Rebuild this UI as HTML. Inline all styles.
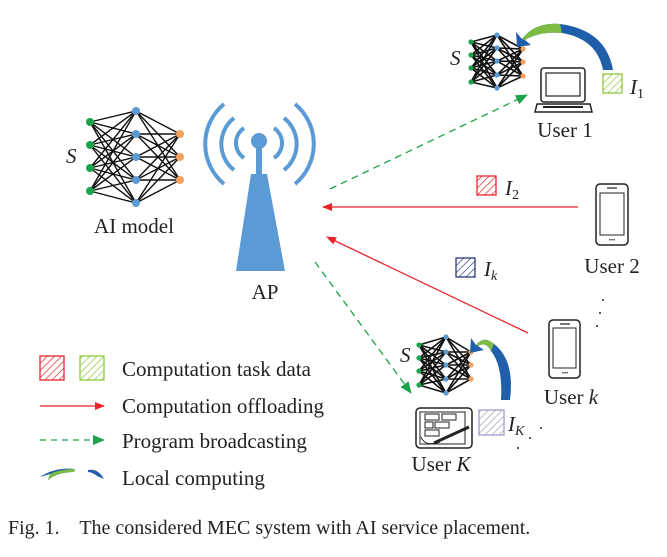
<!DOCTYPE html>
<html><head><meta charset="utf-8"><style>
html,body{margin:0;padding:0;background:#fff;}
svg{display:block;font-family:"Liberation Serif",serif;}
</style></head><body>
<svg id="s" width="667" height="557" viewBox="0 0 667 557" xmlns="http://www.w3.org/2000/svg">
<defs>
<pattern id="hr" width="5" height="5" patternUnits="userSpaceOnUse" patternTransform="rotate(45)"><line x1="0" y1="0" x2="0" y2="5" stroke="#e8232a" stroke-width="1.4"/></pattern>
<pattern id="hg" width="5" height="5" patternUnits="userSpaceOnUse" patternTransform="rotate(45)"><line x1="0" y1="0" x2="0" y2="5" stroke="#8cc63f" stroke-width="1.4"/></pattern>
<pattern id="hb" width="5" height="5" patternUnits="userSpaceOnUse" patternTransform="rotate(45)"><line x1="0" y1="0" x2="0" y2="5" stroke="#2b3a7a" stroke-width="1.4"/></pattern>
<pattern id="hp" width="5" height="5" patternUnits="userSpaceOnUse" patternTransform="rotate(45)"><line x1="0" y1="0" x2="0" y2="5" stroke="#a898c8" stroke-width="1.4"/></pattern>
<marker id="ar" markerWidth="10" markerHeight="8" refX="9" refY="4" orient="auto" markerUnits="userSpaceOnUse"><path d="M0,0 L10,4 L0,8z" fill="#e8232a"/></marker>
<marker id="ag" markerWidth="12" markerHeight="10" refX="11" refY="5" orient="auto" markerUnits="userSpaceOnUse"><path d="M0,0 L12,5 L0,10z" fill="#1aa34a"/></marker>
</defs>
<g id="nn"></g>
<!-- AP -->
<g fill="#5b9bd5" stroke="none">
<circle cx="259" cy="141" r="8"/>
<rect x="256" y="146" width="6" height="30"/>
<path d="M251,174 L267,174 L285,271 L236,271z"/>
</g>
<g fill="none" stroke="#5b9bd5" stroke-width="4">
<path d="M244,128 A18,18 0 0 0 244,158"/><path d="M274,128 A18,18 0 0 1 274,158"/>
<path d="M234,118 A33,33 0 0 0 234,170"/><path d="M284,118 A33,33 0 0 1 284,170"/>
<path d="M224,104 A52,52 0 0 0 224,184"/><path d="M295,104 A52,52 0 0 1 295,184"/>
</g>
<!-- arrows -->
<line x1="330" y1="189" x2="527" y2="95" stroke="#1aa34a" stroke-width="1.3" stroke-dasharray="7,5" marker-end="url(#ag)"/>
<line x1="578" y1="207" x2="323" y2="207" stroke="#e8232a" stroke-width="1.3" marker-end="url(#ar)"/>
<line x1="528" y1="333" x2="327" y2="237" stroke="#e8232a" stroke-width="1.3" marker-end="url(#ar)"/>
<line x1="315" y1="262" x2="411" y2="393" stroke="#1aa34a" stroke-width="1.3" stroke-dasharray="7,5" marker-end="url(#ag)"/>
<!-- laptop -->
<rect x="541" y="68" width="44" height="34" rx="3" fill="none" stroke="#222" stroke-width="1.5"/>
<rect x="546" y="73" width="34" height="23" fill="none" stroke="#222" stroke-width="1.2"/>
<path d="M537,104 L590,104 L592,112 L535,112z" fill="none" stroke="#222" stroke-width="1.5"/>
<rect x="543" y="106" width="40" height="2" fill="#222"/>
<!-- phone 2 -->
<rect x="596" y="184" width="32" height="61" rx="4" fill="none" stroke="#222" stroke-width="1.5"/>
<rect x="600" y="193" width="24" height="42" fill="none" stroke="#222" stroke-width="1"/>
<line x1="607" y1="188" x2="617" y2="188" stroke="#222" stroke-width="1.2"/>
<text x="612" y="242" font-size="6" text-anchor="middle">•••</text>
<!-- phone k -->
<rect x="549" y="320" width="31" height="58" rx="4" fill="none" stroke="#222" stroke-width="1.5"/>
<rect x="553" y="328" width="23" height="40" fill="none" stroke="#222" stroke-width="1"/>
<line x1="560" y1="324" x2="570" y2="324" stroke="#222" stroke-width="1.2"/>
<text x="565" y="375" font-size="6" text-anchor="middle">•••</text>
<!-- tablet -->
<rect x="416" y="408" width="56" height="40" rx="4" fill="none" stroke="#222" stroke-width="1.5"/>
<rect x="420" y="412" width="45" height="32" fill="none" stroke="#222" stroke-width="1"/>
<g stroke="#222" stroke-width="1" fill="none">
<rect x="425" y="414" width="14" height="6"/><rect x="442" y="414" width="14" height="6"/>
<rect x="425" y="422" width="8" height="6"/><rect x="435" y="422" width="14" height="6"/>
<rect x="425" y="430" width="14" height="6"/>
</g>
<line x1="434" y1="443" x2="469" y2="427" stroke="#222" stroke-width="3"/>
<path d="M421,437 Q425,447 440,442" fill="none" stroke="#222"/>
<!-- hatched boxes -->
<rect x="603" y="74" width="19" height="19" fill="url(#hg)" stroke="#8cc63f" stroke-width="1.3"/>
<rect x="477" y="176" width="19" height="19" fill="url(#hr)" stroke="#e8232a" stroke-width="1.3"/>
<rect x="456" y="258" width="19" height="19" fill="url(#hb)" stroke="#2b3a7a" stroke-width="1.3"/>
<rect x="479" y="410" width="25" height="25" fill="url(#hp)" stroke="#a898c8" stroke-width="1.3"/>
<!-- local computing curves -->
<path d="M613,70 Q606,30 560,24 Q535,22 522,39 L516,32 L517,47 L531,45 L525,40 Q540,31 562,33 Q597,39 603,70z" fill="#1f5ea8"/>
<path d="M560,24 Q535,22 522,39 L525,40 Q540,31 562,33z" fill="#7dbb42"/>
<path d="M510,400 Q515,360 494,344 Q484,335 476,345 L471,338 L470,353 L484,350 L478,346 Q486,341 491,351 Q503,366 501,400z" fill="#1f5ea8"/>
<path d="M494,344 Q484,335 476,345 L478,346 Q486,341 491,351z" fill="#7dbb42"/>
<!-- labels -->
<g font-size="21" fill="#222">
<text x="66" y="163" font-style="italic">S</text>
<text x="134" y="233" text-anchor="middle">AI model</text>
<text x="265" y="299" text-anchor="middle">AP</text>
<text x="450" y="65" font-style="italic">S</text>
<text x="400" y="362" font-style="italic">S</text>
<text x="565" y="137" text-anchor="middle">User 1</text>
<text x="612" y="273" text-anchor="middle">User 2</text>
<text x="571" y="404" text-anchor="middle">User <tspan font-style="italic">k</tspan></text>
<text x="441" y="471" text-anchor="middle">User <tspan font-style="italic">K</tspan></text>
<text x="630" y="94" font-style="italic">I<tspan font-size="14" font-style="normal" dy="4">1</tspan></text>
<text x="505" y="195" font-style="italic">I<tspan font-size="14" font-style="normal" dy="4">2</tspan></text>
<text x="484" y="276" font-style="italic">I<tspan font-size="14" dy="4">k</tspan></text>
<text x="508" y="431" font-style="italic">I<tspan font-size="14" dy="4">K</tspan></text>
<text x="122" y="376">Computation task data</text>
<text x="122" y="413">Computation offloading</text>
<text x="122" y="448">Program broadcasting</text>
<text x="122" y="485">Local computing</text>
</g>
<g fill="#222"><circle cx="603" cy="300" r="1"/><circle cx="600" cy="313" r="1"/><circle cx="597" cy="326" r="1"/>
<circle cx="541" cy="428" r="1"/><circle cx="530" cy="438" r="1"/><circle cx="518" cy="448" r="1"/></g>
<!-- legend -->
<rect x="40" y="356" width="24" height="24" fill="url(#hr)" stroke="#e8232a" stroke-width="1.3"/>
<rect x="80" y="356" width="24" height="24" fill="url(#hg)" stroke="#8cc63f" stroke-width="1.3"/>
<line x1="40" y1="406" x2="104" y2="406" stroke="#e8232a" stroke-width="1.3" marker-end="url(#ar)"/>
<line x1="40" y1="440" x2="104" y2="440" stroke="#1aa34a" stroke-width="1.3" stroke-dasharray="6,5" marker-end="url(#ag)"/>
<path d="M40,477 Q55,467 75,469 L74,472 Q58,472 48,480 L50,474z" fill="#1f5ea8"/>
<path d="M50,474 Q60,469 75,469 L74,472 Q58,472 48,480z" fill="#7dbb42"/>
<path d="M88,470 Q98,468 104,479 L97,476 Q92,472 88,472z" fill="#1f5ea8"/>
<text x="8" y="534" font-size="20" fill="#222" xml:space="preserve">Fig. 1.    The considered MEC system with AI service placement.</text>
</svg>
<script>
function nn(x1,ys1,x2,ys2,x3,ys3,r,sw){
  var g=document.getElementById('nn'),s='';
  function L(a,b,c,d){s+='<line x1="'+a+'" y1="'+b+'" x2="'+c+'" y2="'+d+'" stroke="#111" stroke-width="'+sw+'"/>';}
  ys1.forEach(function(a){ys2.forEach(function(b){L(x1,a,x2,b);});});
  ys2.forEach(function(a){ys3.forEach(function(b){L(x2,a,x3,b);});});
  ys1.forEach(function(y){s+='<circle cx="'+x1+'" cy="'+y+'" r="'+r+'" fill="#1aa34a"/>';});
  ys2.forEach(function(y){s+='<circle cx="'+x2+'" cy="'+y+'" r="'+r+'" fill="#5b9bd5"/>';});
  ys3.forEach(function(y){s+='<circle cx="'+x3+'" cy="'+y+'" r="'+r+'" fill="#f4a261"/>';});
  g.innerHTML+=s;
}
nn(90,[122,145,168,191],136,[111,134,157,180,203],180,[134,157,180],4,1.4);
nn(471,[42,55,68,82],497,[35,48,61,75,88],523,[49,62,76],2.6,1.6);
nn(419,[345,358,371,385],446,[337,352,365,379,393],471,[352,365,379],2.6,1.6);
</script>
</body></html>
